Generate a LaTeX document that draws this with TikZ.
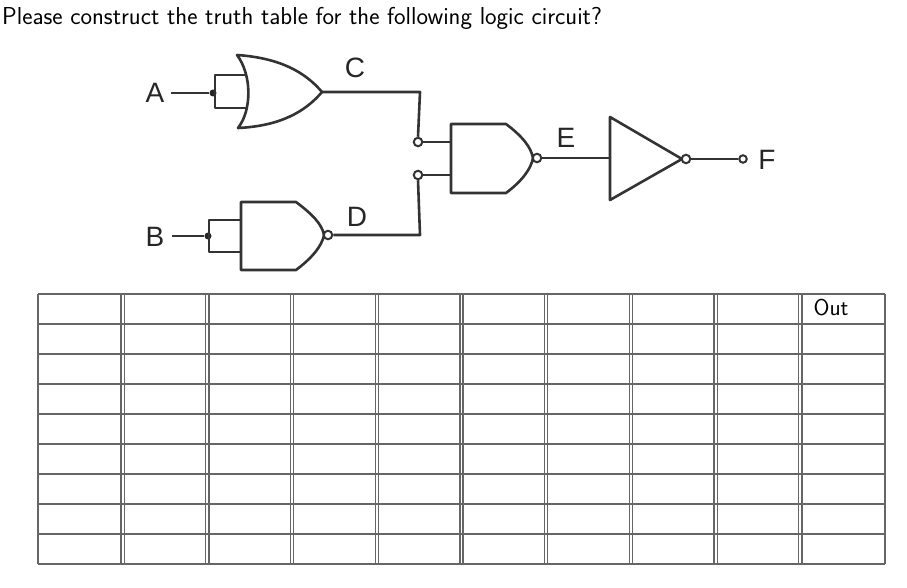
\documentclass[tikz,border=0pt]{standalone}
\usepackage{fontspec}
\newfontfamily\arialf{Liberation Sans}
\begin{document}
\begin{tikzpicture}[x=1pt,y=-1pt,
  wire/.style={line width=2.6pt,draw=black!80,line join=round},
  bub/.style={circle,draw=black!80,line width=2pt,fill=white,inner sep=0pt,minimum size=8.5pt},
  dotj/.style={circle,fill=black!85,inner sep=0pt,minimum size=7pt},
  lbl/.style={font=\arialf\fontsize{28}{28}\selectfont,text=black!85,inner sep=0pt},
  tline/.style={draw=black!60,line width=1.3pt}]
\useasboundingbox (0,0) rectangle (907,588);
\node[anchor=west,font=\sffamily\fontsize{24.5}{25}\selectfont,inner sep=0pt] (title) at (2,18) {Please construct the truth table for the following logic circuit?};
% OR gate
\draw[wire] (237,55) .. controls (252,75) and (252,110) .. (238,128)
  .. controls (280,126) and (305,112) .. (322,92)
  .. controls (305,72) and (280,58) .. cycle;
\coordinate (orA1) at (247,75); \coordinate (orA2) at (247,108); \coordinate (orOut) at (322,92);
\node[lbl] (A) at (155,93) {A};
\node[dotj] (jA) at (213,93) {};
\draw[wire] (A.east)++(6,0) -- (jA);
\draw[wire] (orA1) -| (215,108) -- (orA2);
% NAND1
\draw[wire] (241,202) -- (296,202) .. controls (312,214) and (322,224) .. (324,235)
  .. controls (322,246) and (312,258) .. (296,270) -- (241,270) -- cycle;
\node[bub] (bD) at (328,235) {};
\node[lbl] (B) at (155,237) {B};
\node[dotj] (jB) at (208,236) {};
\draw[wire] (172,236) -- (jB);
\draw[wire] (241,220) -| (209,252) -- (241,252);
\node[lbl] (C) at (355,68) {C};
\node[lbl] (D) at (357,217) {D};
% NAND2
\draw[wire] (451,124) -- (506,124) .. controls (522,136) and (531,147) .. (533,158)
  .. controls (531,169) and (522,181) .. (506,193) -- (451,193) -- cycle;
\node[bub] (i1) at (418,142) {};
\node[bub] (i2) at (418,175) {};
\node[bub] (bE) at (537,158) {};
\draw[wire] (orOut) -- (420,92) -- (i1.north);
\draw[wire] (i1.east) -- (451,142);
\draw[wire] (bD.east) -- (420,235) -- (i2.south);
\draw[wire] (i2.east) -- (451,175);
\node[lbl] (E) at (566,138) {E};
% NOT
\draw[wire] (610,117) -- (682,159) -- (610,200) -- cycle;
\coordinate (notIn) at (610,158);
\draw[wire] (bE.east) -- (notIn);
\node[bub] (bF) at (686,159) {};
\node[bub,minimum size=7.5pt] (oF) at (743,159) {};
\draw[wire] (bF.east) -- (oF.west);
\node[lbl] (F) at (767,160) {F};
% table
\foreach \r in {0,...,9} \draw[tline] (38,294+\r*30) -- (885,294+\r*30);
\draw[tline] (38,294) -- (38,564);
\foreach \c in {1,...,9} {
  \draw[tline] (38+\c*84.7-1.6,294) -- (38+\c*84.7-1.6,564);
  \draw[tline] (38+\c*84.7+1.6,294) -- (38+\c*84.7+1.6,564);
}
\draw[tline] (885,294) -- (885,564);
\node[font=\sffamily\fontsize{23}{24}\selectfont,inner sep=0pt] (out) at (831,308) {Out};
\end{tikzpicture}
\end{document}
